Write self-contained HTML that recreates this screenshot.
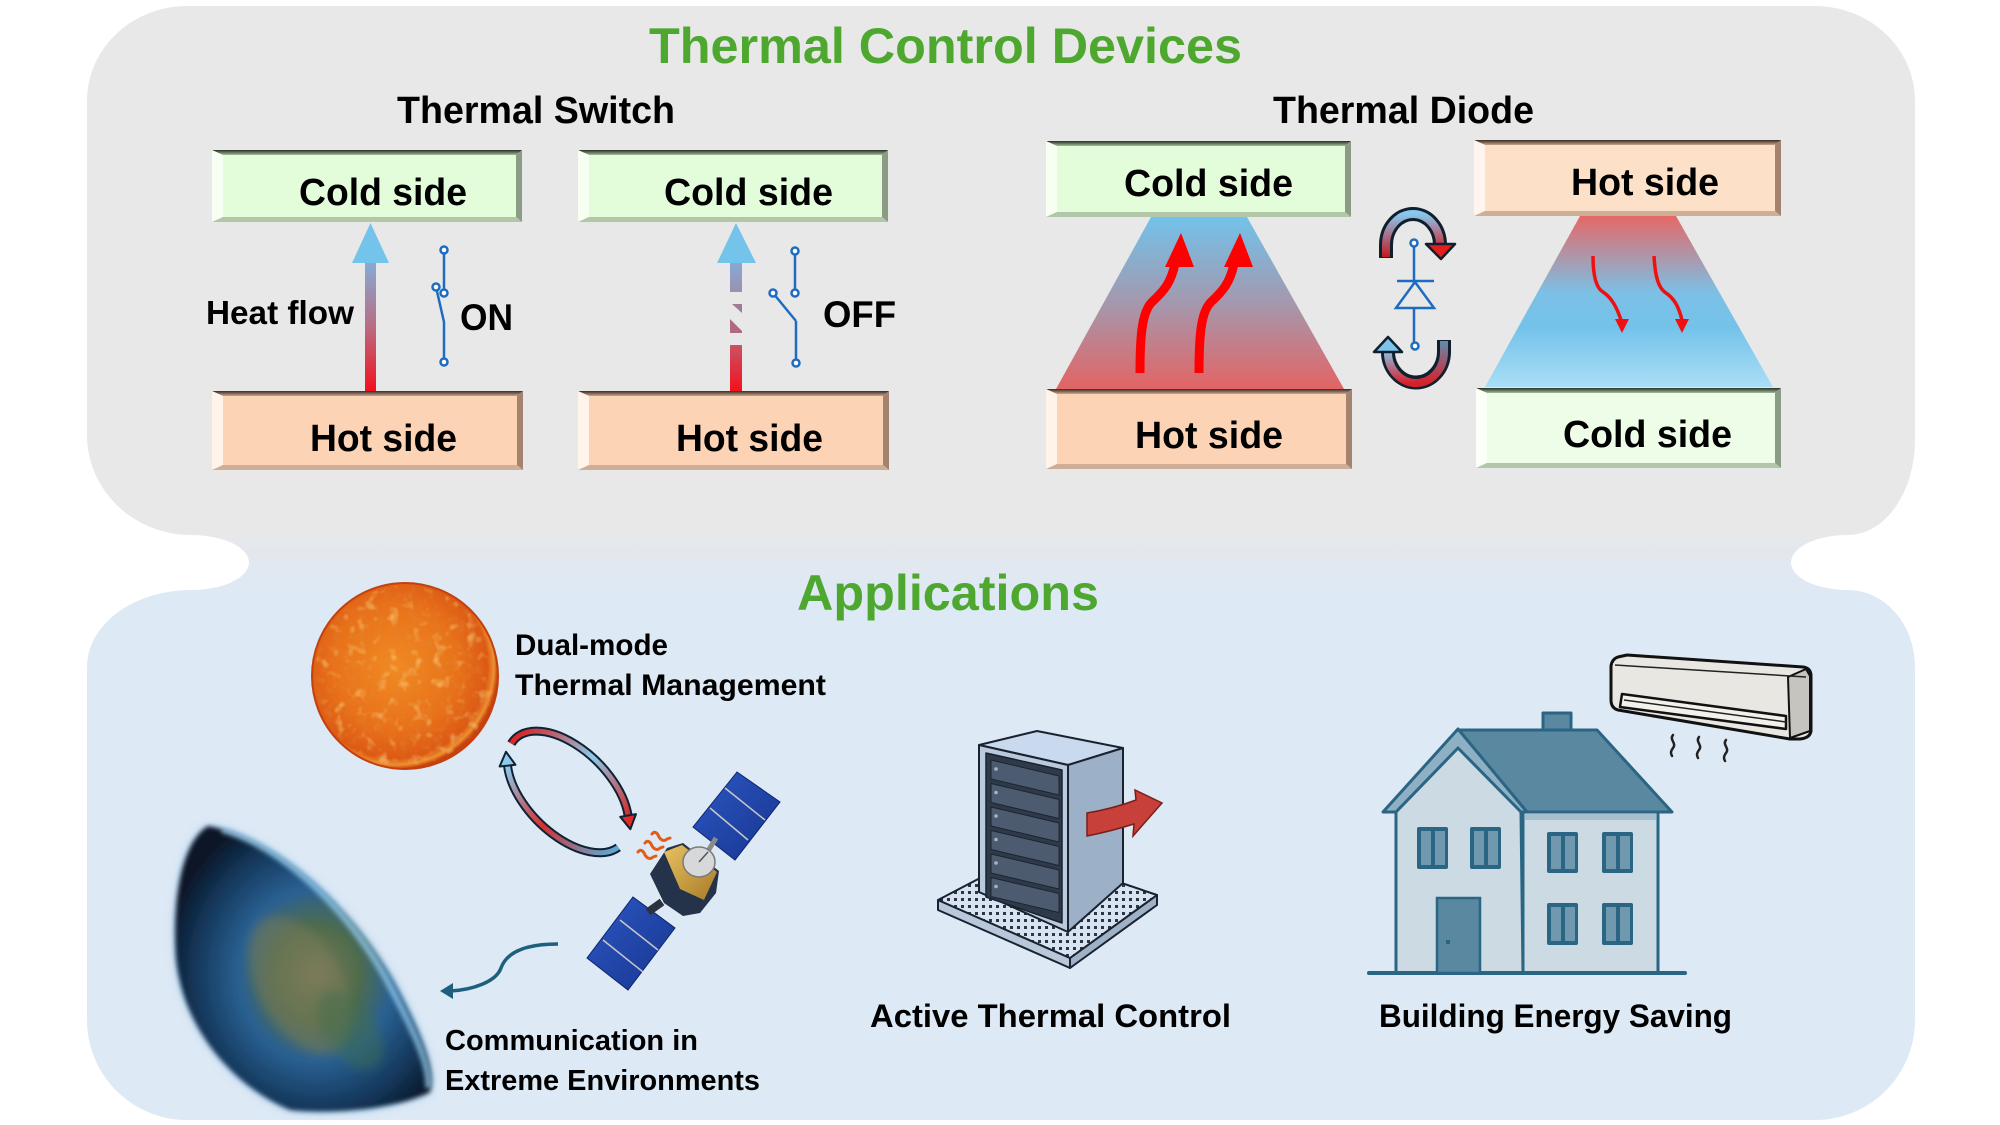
<!DOCTYPE html>
<html><head><meta charset="utf-8"><style>html,body{margin:0;padding:0;background:#fff}svg{display:block}</style></head>
<body>
<svg width="2000" height="1125" viewBox="0 0 2000 1125" xmlns="http://www.w3.org/2000/svg" font-family="'Liberation Sans', Arial, sans-serif" font-weight="bold">
<defs>
<linearGradient id="bg" gradientUnits="userSpaceOnUse" x1="0" y1="0" x2="0" y2="1125">
<stop offset="0" stop-color="#e8e8e8"/><stop offset="0.4756" stop-color="#e8e8e8"/><stop offset="0.478" stop-color="#e6e8ec"/><stop offset="0.53" stop-color="#dde9f5"/><stop offset="1" stop-color="#dde9f5"/></linearGradient>
<linearGradient id="cTop" x1="0" y1="0" x2="0" y2="1"><stop offset="0" stop-color="#263022"/><stop offset="1" stop-color="#a3bd99"/></linearGradient>
<linearGradient id="hTop" x1="0" y1="0" x2="0" y2="1"><stop offset="0" stop-color="#3a2a22"/><stop offset="1" stop-color="#c9a58c"/></linearGradient>
<linearGradient id="arL" gradientUnits="userSpaceOnUse" x1="0" y1="392" x2="0" y2="262"><stop offset="0" stop-color="#f3101b"/><stop offset="0.5" stop-color="#b96c82"/><stop offset="1" stop-color="#84acd6"/></linearGradient>
<linearGradient id="trL" x1="0" y1="0" x2="0" y2="1"><stop offset="0" stop-color="#72c2ea"/><stop offset="0.5" stop-color="#a498ae"/><stop offset="1" stop-color="#e36464"/></linearGradient>
<linearGradient id="trR" x1="0" y1="0" x2="0" y2="1"><stop offset="0" stop-color="#e56866"/><stop offset="0.45" stop-color="#7cc0e6"/><stop offset="0.65" stop-color="#74c2ea"/><stop offset="1" stop-color="#aadef6"/></linearGradient>
<linearGradient id="dA" gradientUnits="userSpaceOnUse" x1="0" y1="258" x2="0" y2="214"><stop offset="0" stop-color="#c8141c"/><stop offset="1" stop-color="#86c8ee"/></linearGradient>
<linearGradient id="dB" gradientUnits="userSpaceOnUse" x1="0" y1="214" x2="0" y2="250"><stop offset="0" stop-color="#86c8ee"/><stop offset="1" stop-color="#d8202a"/></linearGradient>
<linearGradient id="dC" gradientUnits="userSpaceOnUse" x1="0" y1="350" x2="0" y2="383"><stop offset="0" stop-color="#86c8ee"/><stop offset="1" stop-color="#d8202a"/></linearGradient>
<linearGradient id="dD" gradientUnits="userSpaceOnUse" x1="0" y1="383" x2="0" y2="340"><stop offset="0" stop-color="#d8202a"/><stop offset="1" stop-color="#5f8fb0"/></linearGradient>
<linearGradient id="cu" gradientUnits="userSpaceOnUse" x1="-75" y1="0" x2="60" y2="0"><stop offset="0" stop-color="#d42a2a"/><stop offset="0.5" stop-color="#8ccaea"/><stop offset="1" stop-color="#d42a2a"/></linearGradient>
<linearGradient id="cl" gradientUnits="userSpaceOnUse" x1="75" y1="0" x2="-62" y2="0"><stop offset="0" stop-color="#5ea8d0"/><stop offset="0.5" stop-color="#d43030"/><stop offset="1" stop-color="#8ccaea"/></linearGradient>
<radialGradient id="sunG" cx="0.45" cy="0.45" r="0.55"><stop offset="0" stop-color="#f08a22"/><stop offset="0.6" stop-color="#e8721a"/><stop offset="0.9" stop-color="#dc5a14"/><stop offset="0.96" stop-color="#ee9030"/><stop offset="1" stop-color="#c8420e"/></radialGradient>
<filter id="sunTex" x="0" y="0" width="100%" height="100%"><feTurbulence type="fractalNoise" baseFrequency="0.09" numOctaves="2" seed="4"/><feColorMatrix type="matrix" values="0 0 0 0 1  0 0 0 0 0.78  0 0 0 0 0.3  0 0 0 2.2 -1.25"/><feComposite in2="SourceGraphic" operator="in"/></filter>
<filter id="sunDark" x="0" y="0" width="100%" height="100%"><feTurbulence type="fractalNoise" baseFrequency="0.12" numOctaves="2" seed="9"/><feColorMatrix type="matrix" values="0 0 0 0 0.75  0 0 0 0 0.25  0 0 0 0 0.05  0 0 0 1.6 -0.8"/><feComposite in2="SourceGraphic" operator="in"/></filter>
<radialGradient id="earthG" cx="0.55" cy="0.52" r="0.6"><stop offset="0" stop-color="#7b7a58"/><stop offset="0.28" stop-color="#4f6c4c"/><stop offset="0.5" stop-color="#2a6192"/><stop offset="0.78" stop-color="#14385c"/><stop offset="1" stop-color="#0a1626"/></radialGradient>
<filter id="soft" x="-20%" y="-20%" width="140%" height="140%"><feGaussianBlur stdDeviation="2.5"/></filter>
<filter id="glow" x="-20%" y="-20%" width="140%" height="140%"><feGaussianBlur stdDeviation="5"/></filter>
<linearGradient id="panelG" x1="0" y1="0" x2="1" y2="1"><stop offset="0" stop-color="#2c58c4"/><stop offset="1" stop-color="#17348e"/></linearGradient>
<linearGradient id="goldG" x1="0" y1="0" x2="1" y2="1"><stop offset="0" stop-color="#e8c260"/><stop offset="1" stop-color="#a87a28"/></linearGradient>
<pattern id="dots" width="7" height="7" patternUnits="userSpaceOnUse"><rect width="7" height="7" fill="#d7e3f0"/><rect x="2" y="2" width="3" height="3" fill="#2a3548"/></pattern>
</defs>

<path d="M187,6 H1815 A100,95 0 0 1 1915,101 V440 A67,95 0 0 1 1848,535 A57,27.5 0 0 0 1848,590 A67,77 0 0 1 1915,667 V1020 A100,100 0 0 1 1815,1120 H187 A100,100 0 0 1 87,1020 V667 A104,77 0 0 1 191,590 A58,27.5 0 0 0 191,535 A104,100 0 0 1 87,435 V101 A100,95 0 0 1 187,6 Z" fill="url(#bg)"/>

<text x="649" y="63" font-size="50" fill="#4ea72e" textLength="593" lengthAdjust="spacingAndGlyphs">Thermal Control Devices</text>
<text x="397" y="123" font-size="38" fill="#000" textLength="278" lengthAdjust="spacingAndGlyphs">Thermal Switch</text>
<text x="1273" y="123" font-size="38" fill="#000" textLength="261" lengthAdjust="spacingAndGlyphs">Thermal Diode</text>

<polygon points="1151,217 1247,217 1344,389 1056,389" fill="url(#trL)"/>
<polygon points="1580,216 1676,216 1773,387 1485,387" fill="url(#trR)"/>

<g>
<rect x="223" y="155" width="293" height="62" fill="#e3fddb"/>
<polygon points="212,150 522,150 516,155 223,155" fill="url(#cTop)"/>
<polygon points="212,150 223,155 223,217 212,222" fill="#f7fff3"/>
<polygon points="522,150 522,222 516,217 516,155" fill="#8a9c83"/>
<polygon points="212,222 223,217 516,217 522,222" fill="#b2c6a9"/>
</g>
<g>
<rect x="223" y="396" width="294" height="69" fill="#fdd3b6"/>
<polygon points="212,391 523,391 517,396 223,396" fill="url(#hTop)"/>
<polygon points="212,391 223,396 223,465 212,470" fill="#fff3ea"/>
<polygon points="523,391 523,470 517,465 517,396" fill="#a3826e"/>
<polygon points="212,470 223,465 517,465 523,470" fill="#cfae98"/>
</g>
<g>
<rect x="589" y="155" width="293" height="62" fill="#e3fddb"/>
<polygon points="578,150 888,150 882,155 589,155" fill="url(#cTop)"/>
<polygon points="578,150 589,155 589,217 578,222" fill="#f7fff3"/>
<polygon points="888,150 888,222 882,217 882,155" fill="#8a9c83"/>
<polygon points="578,222 589,217 882,217 888,222" fill="#b2c6a9"/>
</g>
<g>
<rect x="589" y="396" width="294" height="69" fill="#fdd3b6"/>
<polygon points="578,391 889,391 883,396 589,396" fill="url(#hTop)"/>
<polygon points="578,391 589,396 589,465 578,470" fill="#fff3ea"/>
<polygon points="889,391 889,470 883,465 883,396" fill="#a3826e"/>
<polygon points="578,470 589,465 883,465 889,470" fill="#cfae98"/>
</g>
<g>
<rect x="1057" y="146" width="288" height="66" fill="#e3fddb"/>
<polygon points="1046,141 1351,141 1345,146 1057,146" fill="url(#cTop)"/>
<polygon points="1046,141 1057,146 1057,212 1046,217" fill="#f7fff3"/>
<polygon points="1351,141 1351,217 1345,212 1345,146" fill="#8a9c83"/>
<polygon points="1046,217 1057,212 1345,212 1351,217" fill="#b2c6a9"/>
</g>
<g>
<rect x="1057" y="394" width="289" height="70" fill="#fdd3b6"/>
<polygon points="1046,389 1352,389 1346,394 1057,394" fill="url(#hTop)"/>
<polygon points="1046,389 1057,394 1057,464 1046,469" fill="#fff3ea"/>
<polygon points="1352,389 1352,469 1346,464 1346,394" fill="#a3826e"/>
<polygon points="1046,469 1057,464 1346,464 1352,469" fill="#cfae98"/>
</g>
<g>
<rect x="1485" y="145" width="290" height="66" fill="#fde0c8"/>
<polygon points="1474,140 1781,140 1775,145 1485,145" fill="url(#hTop)"/>
<polygon points="1474,140 1485,145 1485,211 1474,216" fill="#fff5ee"/>
<polygon points="1781,140 1781,216 1775,211 1775,145" fill="#a3826e"/>
<polygon points="1474,216 1485,211 1775,211 1781,216" fill="#cfae98"/>
</g>
<g>
<rect x="1487" y="393" width="288" height="70" fill="#eefde8"/>
<polygon points="1476,388 1781,388 1775,393 1487,393" fill="url(#cTop)"/>
<polygon points="1476,388 1487,393 1487,463 1476,468" fill="#fafff8"/>
<polygon points="1781,388 1781,468 1775,463 1775,393" fill="#8a9c83"/>
<polygon points="1476,468 1487,463 1775,463 1781,468" fill="#b2c6a9"/>
</g>

<g font-size="38" fill="#000">
<text x="299" y="205" textLength="168" lengthAdjust="spacingAndGlyphs">Cold side</text>
<text x="310" y="451" textLength="147" lengthAdjust="spacingAndGlyphs">Hot side</text>
<text x="664" y="205" textLength="169" lengthAdjust="spacingAndGlyphs">Cold side</text>
<text x="676" y="451" textLength="147" lengthAdjust="spacingAndGlyphs">Hot side</text>
<text x="1124" y="196" textLength="169" lengthAdjust="spacingAndGlyphs">Cold side</text>
<text x="1135" y="448" textLength="148" lengthAdjust="spacingAndGlyphs">Hot side</text>
<text x="1571" y="195" textLength="148" lengthAdjust="spacingAndGlyphs">Hot side</text>
<text x="1563" y="447" textLength="169" lengthAdjust="spacingAndGlyphs">Cold side</text>
</g>

<rect x="365" y="262" width="11" height="129" fill="url(#arL)"/>
<polygon points="352,263 389,263 370.5,223" fill="#74c3ea"/>
<rect x="730" y="262" width="12" height="30" fill="url(#arL)"/>
<rect x="730" y="345" width="12" height="46" fill="url(#arL)"/>
<polygon points="732,304 742,304 742,313" fill="#a07a98"/>
<polygon points="730,319 742,331 742,333 730,333" fill="#b06a80"/>
<polygon points="717,263 756,263 736,223" fill="#74c3ea"/>

<text x="206" y="324" font-size="33" fill="#000" textLength="148" lengthAdjust="spacingAndGlyphs">Heat flow</text>
<text x="460" y="330" font-size="37" fill="#000" textLength="53" lengthAdjust="spacingAndGlyphs">ON</text>
<text x="823" y="327" font-size="37" fill="#000" textLength="73" lengthAdjust="spacingAndGlyphs">OFF</text>

<g stroke="#1e6cc0" stroke-width="2.5" fill="#fff">
<line x1="444" y1="250" x2="444" y2="293"/>
<line x1="436" y1="287" x2="444" y2="322"/>
<line x1="444" y1="322" x2="444" y2="362"/>
<circle cx="444" cy="250" r="3.5"/><circle cx="444" cy="293" r="3.5"/><circle cx="436" cy="287" r="3.5"/><circle cx="444" cy="362" r="3.5"/>
<line x1="795" y1="251" x2="795" y2="293"/>
<line x1="773" y1="293" x2="796" y2="321"/>
<line x1="796" y1="321" x2="796" y2="363"/>
<circle cx="795" cy="251" r="3.5"/><circle cx="795" cy="293" r="3.5"/><circle cx="773" cy="293" r="3.5"/><circle cx="796" cy="363" r="3.5"/>
</g>

<g fill="none" stroke="#f00" stroke-width="9">
<path d="M1140,373 C1140,335 1142,312 1152,302 C1165,290 1171,282 1175,264"/>
<path d="M1199,373 C1199,335 1201,312 1211,302 C1224,290 1230,282 1234,264"/>
</g>
<polygon points="1165,267 1194,267 1181,233" fill="#f00"/>
<polygon points="1224,267 1253,267 1240,233" fill="#f00"/>
<g fill="none" stroke="#f01010" stroke-width="3.5">
<path d="M1593,256 C1593,275 1596,288 1603,292 C1612,298 1617,308 1621,320"/>
<path d="M1654,256 C1655,275 1658,288 1666,293 C1675,299 1679,308 1682,320"/>
</g>
<polygon points="1615,319 1629,319 1622,333" fill="#f01010"/>
<polygon points="1675,319 1689,319 1682,333" fill="#f01010"/>

<g stroke="#1e6cc0" stroke-width="2.5" fill="#e8e8e8">
<line x1="1414" y1="246" x2="1414" y2="343"/>
<line x1="1397" y1="281" x2="1434" y2="281"/>
<polygon points="1415,282 1396,308 1434,308"/>
<circle cx="1414" cy="243" r="3.5" fill="#fff"/><circle cx="1415" cy="346" r="3.5" fill="#fff"/>
</g>
<path d="M1386,258 L1386,245 A27,31 0 0 1 1440,245 L1440,246" fill="none" stroke="#0f1f2e" stroke-width="14"/>
<path d="M1386,257 L1386,245 A27,31 0 0 1 1413,214" fill="none" stroke="url(#dA)" stroke-width="8"/>
<path d="M1413,214 A27,31 0 0 1 1440,245 L1440,247" fill="none" stroke="url(#dB)" stroke-width="8"/>
<polygon points="1426,244 1455,244 1441,259" fill="#e0201c" stroke="#0f1f2e" stroke-width="2.5" stroke-linejoin="round"/>
<path d="M1388,351 A28,31 0 0 0 1444,352 L1444,340" fill="none" stroke="#0f1f2e" stroke-width="14"/>
<path d="M1388,350 A28,31 0 0 0 1416,383" fill="none" stroke="url(#dC)" stroke-width="8"/>
<path d="M1416,383 A28,31 0 0 0 1444,352 L1444,341" fill="none" stroke="url(#dD)" stroke-width="8"/>
<polygon points="1374,352 1402,352 1388,337" fill="#7cc4ec" stroke="#0f1f2e" stroke-width="2.5" stroke-linejoin="round"/>

<text x="797" y="610" font-size="50" fill="#4ea72e" textLength="302" lengthAdjust="spacingAndGlyphs">Applications</text>

<!-- Sun -->
<circle cx="405" cy="676" r="93" fill="url(#sunG)"/>
<circle cx="405" cy="676" r="90" fill="#000" filter="url(#sunDark)" opacity="0.6"/>
<circle cx="405" cy="676" r="90" fill="#000" filter="url(#sunTex)" opacity="0.7"/>
<circle cx="405" cy="676" r="93" fill="none" stroke="#c4400e" stroke-width="2"/>

<g font-size="30" fill="#000">
<text x="515" y="655" textLength="153" lengthAdjust="spacingAndGlyphs">Dual-mode</text>
<text x="515" y="695" textLength="311" lengthAdjust="spacingAndGlyphs">Thermal Management</text>
<text x="445" y="1050" font-size="29" textLength="253" lengthAdjust="spacingAndGlyphs">Communication in</text>
<text x="445" y="1090" font-size="29" textLength="315" lengthAdjust="spacingAndGlyphs">Extreme Environments</text>
<text x="870" y="1027" font-size="32" textLength="361" lengthAdjust="spacingAndGlyphs">Active Thermal Control</text>
<text x="1379" y="1027" font-size="32" textLength="353" lengthAdjust="spacingAndGlyphs">Building Energy Saving</text>
</g>

<!-- Earth -->
<path d="M208,826 C275,838 352,905 396,985 C422,1035 436,1070 430,1092 C400,1108 335,1115 290,1110 C230,1085 182,1025 176,958 C172,898 182,842 208,826 Z" fill="#6ab0e4" opacity="0.55" filter="url(#glow)"/>
<path d="M208,826 C275,838 352,905 396,985 C422,1035 436,1070 430,1092 C400,1108 335,1115 290,1110 C230,1085 182,1025 176,958 C172,898 182,842 208,826 Z" fill="url(#earthG)" filter="url(#soft)"/>
<ellipse cx="300" cy="985" rx="42" ry="75" transform="rotate(-28 300 985)" fill="#7d7c5a" opacity="0.5" filter="url(#glow)"/>
<ellipse cx="350" cy="1030" rx="25" ry="45" transform="rotate(-35 350 1030)" fill="#3f6e4a" opacity="0.45" filter="url(#glow)"/>
<path d="M222,830 C282,846 352,912 392,990 C416,1036 430,1066 428,1088" fill="none" stroke="#9ad0f2" stroke-width="6" opacity="0.75" filter="url(#soft)"/>

<g transform="translate(568,792) rotate(45)">
<path d="M-74.3,5.85 A75,42 0 0 1 59.1,-25.9" fill="none" stroke="#0f2233" stroke-width="9"/>
<path d="M-74.3,5.85 A75,42 0 0 1 59.1,-25.9" fill="none" stroke="url(#cu)" stroke-width="5"/>
<polygon points="54.5,-19.4 63.7,-32.4 70.4,-17.8" fill="#e02a2a" stroke="#0f2233" stroke-width="2" stroke-linejoin="round"/>
<path d="M74.7,3.66 A75,42 0 0 1 -61.4,24.1" fill="none" stroke="#0f2233" stroke-width="9"/>
<path d="M74.7,3.66 A75,42 0 0 1 -61.4,24.1" fill="none" stroke="url(#cl)" stroke-width="5"/>
<polygon points="-56.4,17.9 -66.4,30.3 -72.3,15.4" fill="#8ccbee" stroke="#0f2233" stroke-width="2" stroke-linejoin="round"/>
</g>

<polygon points="737,772 780,802 735,860 693,827" fill="url(#panelG)" stroke="#0e2470" stroke-width="1"/>
<line x1="725" y1="788" x2="765" y2="820" stroke="#c8c8c8" stroke-width="1.5"/>
<line x1="710" y1="808" x2="748" y2="840" stroke="#c8c8c8" stroke-width="1.5"/>
<polygon points="633,897 675,928 628,990 587,958" fill="url(#panelG)" stroke="#0e2470" stroke-width="1"/>
<line x1="620" y1="920" x2="658" y2="950" stroke="#c8c8c8" stroke-width="1.5"/>
<line x1="603" y1="940" x2="643" y2="972" stroke="#c8c8c8" stroke-width="1.5"/>
<line x1="708" y1="851" x2="716" y2="838" stroke="#8a8a8a" stroke-width="5"/>
<line x1="662" y1="902" x2="648" y2="912" stroke="#2b3340" stroke-width="8"/>
<polygon points="650,874 667,848 683,843 719,871 716,893 700,913 683,916 664,903" fill="#24324a"/>
<polygon points="664,852 682,845 717,872 704,900 680,889" fill="url(#goldG)"/>
<ellipse cx="699" cy="862" rx="16" ry="15" fill="#d6d8da" stroke="#7a7a7a" stroke-width="1.5"/>
<line x1="699" y1="862" x2="708" y2="852" stroke="#555" stroke-width="1.5"/>
<g fill="none" stroke="#e35c1a" stroke-width="3" stroke-linecap="round">
<path d="M652,834 c3,-4 6,0 7,3 c2,3 5,5 8,2 l3,-1"/>
<path d="M645,843 c3,-4 6,0 7,3 c2,3 5,5 8,2 l3,-1"/>
<path d="M638,852 c3,-4 6,0 7,3 c2,3 5,5 8,2 l3,-1"/>
</g>

<path d="M558,944 C522,944 506,954 501,968 C496,982 472,990 450,991" fill="none" stroke="#1e5f7e" stroke-width="3.5"/>
<polygon points="440,991 453,983 453,999" fill="#1e5f7e"/>

<g stroke="#1a2230" stroke-width="2" stroke-linejoin="round">
<polygon points="938,900 1070,958 1070,968 938,910" fill="#b8c8da"/>
<polygon points="1070,958 1157,895 1157,905 1070,968" fill="#9fb1c6"/>
<polygon points="938,900 1030,852 1157,895 1070,958" fill="url(#dots)"/>
<polygon points="979,745 1037,731 1123,748 1068,765" fill="#c9daee"/>
<polygon points="979,745 1068,765 1068,932 979,892" fill="#b9cade"/>
<polygon points="1068,765 1123,748 1123,883 1068,932" fill="#9cb0c8"/>
<polygon points="986,753 1062,770 1062,923 986,897" fill="#2e3a4a" stroke-width="1.5"/>
</g>
<g stroke="#1b2430" stroke-width="1">
<polygon points="991,760 1059,776 1059,795 991,779" fill="#4d5b70"/>
<polygon points="991,783.5 1059,799.5 1059,818.5 991,802.5" fill="#4d5b70"/>
<polygon points="991,807 1059,823 1059,842 991,826" fill="#4d5b70"/>
<polygon points="991,830.5 1059,846.5 1059,865.5 991,849.5" fill="#4d5b70"/>
<polygon points="991,854 1059,870 1059,889 991,873" fill="#4d5b70"/>
<polygon points="991,877.5 1059,893.5 1059,912.5 991,896.5" fill="#4d5b70"/>
</g>
<g fill="#a8b4c4">
<circle cx="996" cy="769" r="1.8"/><circle cx="996" cy="792.5" r="1.8"/><circle cx="996" cy="816" r="1.8"/><circle cx="996" cy="839.5" r="1.8"/><circle cx="996" cy="863" r="1.8"/><circle cx="996" cy="886.5" r="1.8"/>
</g>
<path d="M1087,813 C1105,810 1120,806 1136,800 L1135,790 L1162,803 L1133,836 L1134,824 C1118,829 1102,833 1087,836 Z" fill="#c8403a" stroke="#7a1e1a" stroke-width="1.5"/>

<g stroke="#2b6584" stroke-width="3" stroke-linejoin="round">
<rect x="1543" y="713" width="28" height="18" fill="#5b88a1"/>
<polygon points="1458,730 1597,730 1672,812 1527,812" fill="#5b88a1"/>
<polygon points="1458,729 1383,812 1527,812" fill="#8fb0c4"/>
<polygon points="1396,812 1458,748 1521,812 1523,973 1396,973" fill="#ccdae3"/>
<rect x="1523" y="812" width="135" height="161" fill="#ccdae3"/>
</g>
<rect x="1525" y="814" width="131" height="6" fill="#a6bfcf"/>
<line x1="1369" y1="973" x2="1685" y2="973" stroke="#2b6584" stroke-width="4" stroke-linecap="round"/>
<rect x="1437" y="898" width="43" height="75" fill="#5b88a1" stroke="#2b6584" stroke-width="2.5"/>
<rect x="1446" y="940" width="4" height="4" fill="#2b6584"/>
<g fill="#2b6584">
<rect x="1417" y="827" width="31" height="42" rx="2"/><rect x="1470" y="827" width="31" height="42" rx="2"/>
<rect x="1547" y="832" width="31" height="41" rx="2"/><rect x="1602" y="832" width="31" height="41" rx="2"/>
<rect x="1547" y="903" width="31" height="42" rx="2"/><rect x="1602" y="903" width="31" height="42" rx="2"/>
</g>
<g fill="#7098ae">
<rect x="1421" y="831" width="10" height="34"/><rect x="1435" y="831" width="10" height="34"/>
<rect x="1474" y="831" width="10" height="34"/><rect x="1488" y="831" width="10" height="34"/>
<rect x="1551" y="836" width="10" height="33"/><rect x="1565" y="836" width="10" height="33"/>
<rect x="1606" y="836" width="10" height="33"/><rect x="1620" y="836" width="10" height="33"/>
<rect x="1551" y="907" width="10" height="34"/><rect x="1565" y="907" width="10" height="34"/>
<rect x="1606" y="907" width="10" height="34"/><rect x="1620" y="907" width="10" height="34"/>
</g>

<path d="M1618,657 L1627,655 L1803,667 Q1811,668 1811,676 L1811,731 Q1810,738 1800,739 L1790,739 L1618,710 Q1611,708 1611,700 L1611,666 Q1612,659 1618,657 Z" fill="#e9e7e1" stroke="#111" stroke-width="3" stroke-linejoin="round"/>
<polygon points="1788,677 1806,669 1810,676 1810,731 1790,738" fill="#c6c4be" stroke="#111" stroke-width="2" stroke-linejoin="round"/>
<line x1="1615" y1="665" x2="1806" y2="677" stroke="#222" stroke-width="1.5"/>
<polygon points="1622,694 1786,716 1786,729 1620,707" fill="#f2f1ec" stroke="#111" stroke-width="2.5" stroke-linejoin="round"/>
<line x1="1624" y1="700" x2="1786" y2="722" stroke="#222" stroke-width="1.5"/>
<g fill="none" stroke="#222" stroke-width="2.5" stroke-linecap="round">
<path d="M1673,735 c-4,5 4,8 0,13 c-3,4 -2,6 -1,8"/>
<path d="M1699,737 c-4,5 4,8 0,13 c-3,4 -2,6 -1,8"/>
<path d="M1726,740 c-4,5 4,8 0,13 c-3,4 -2,6 -1,8"/>
</g>
</svg>
</body></html>
